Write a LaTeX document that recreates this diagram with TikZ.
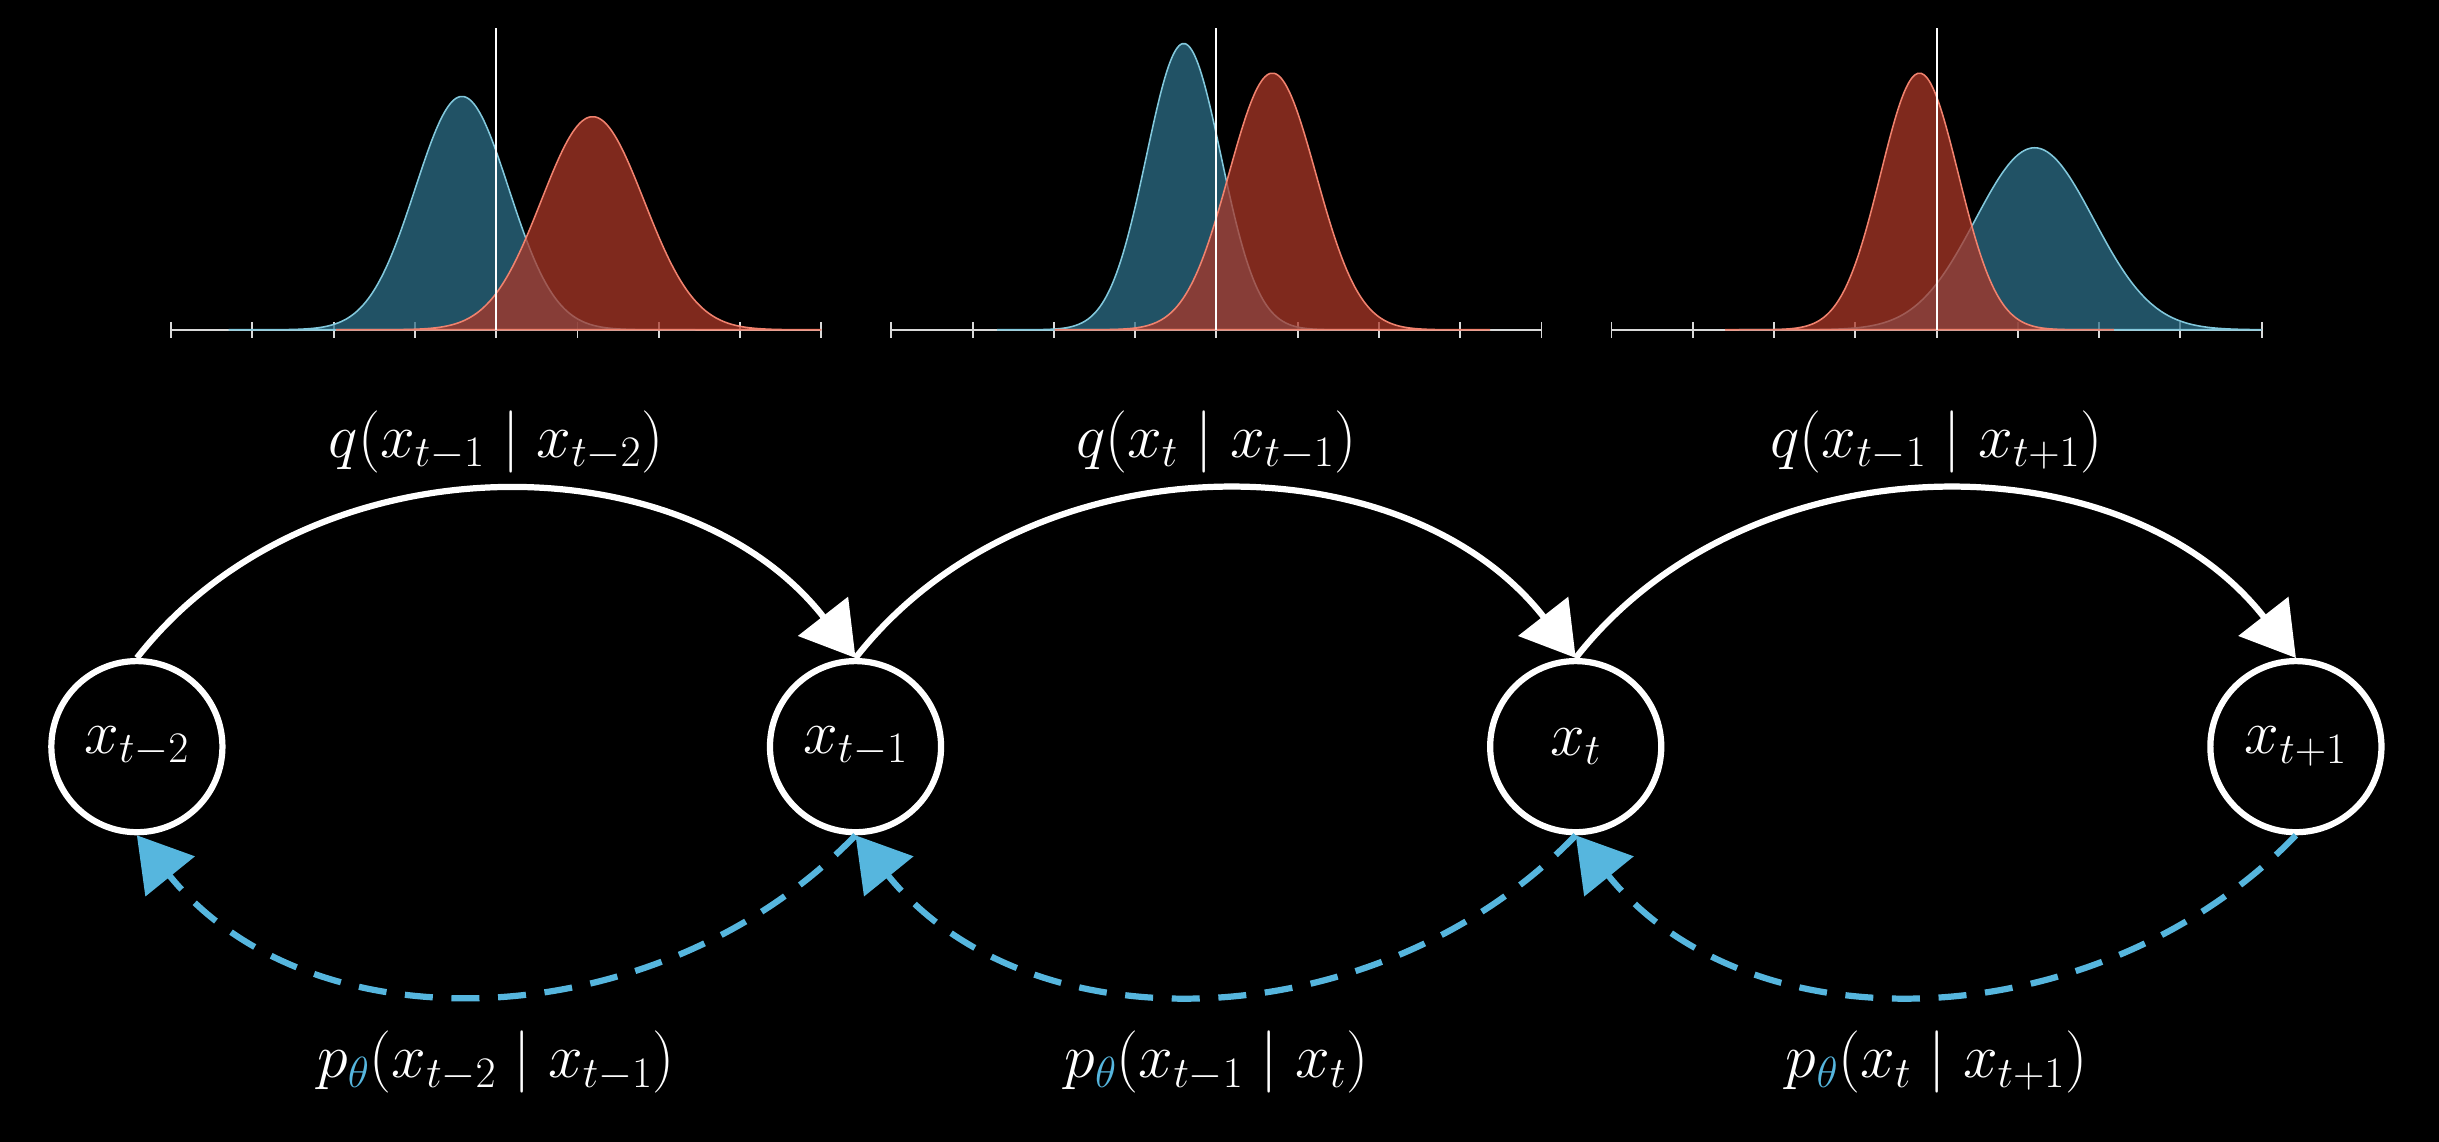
\documentclass[tikz,border=0pt]{standalone}
\usepackage{fix-cm}
\usetikzlibrary{arrows.meta}
\definecolor{pblue}{RGB}{86,182,222}
\definecolor{bfill}{RGB}{45,110,135}
\definecolor{bedge}{RGB}{130,200,220}
\definecolor{rfill}{RGB}{170,55,40}
\definecolor{redge}{RGB}{240,130,110}
\begin{document}
\begin{tikzpicture}[x=1pt,y=-1pt,
  state/.style={circle,draw=white,line width=4pt,minimum size=110pt,inner sep=0pt,text=white,font=\fontsize{40}{48}\selectfont},
  fwd/.style={draw=white,line width=4pt,-{Triangle[length=34pt,width=40pt]}},
  bwd/.style={draw=pblue,line width=4pt,dash pattern=on 18pt off 12pt,-{Triangle[length=34pt,width=40pt]}},
  lab/.style={text=white,font=\fontsize{40}{48}\selectfont},
  axis/.style={draw=white!85!black,line width=1.2pt}]
\fill[black] (0,0) rectangle (1568,734);
\useasboundingbox (0,0) rectangle (1568,734);
\newcommand{\gauss}[5]{%
  \begin{scope}\clip (#1,0) rectangle (#1+418,213);
  \filldraw[#5] plot[domain={#2-5*#3}:{#2+5*#3},samples=120,smooth] (\x,{212-#4*exp(-((\x-#2)/#3)^2/2)}) -- cycle;
  \end{scope}}
\foreach \xa/\name in {110/a,573/b,1036/c}{
  \draw[axis] (\xa,212) -- (\xa+418,212);
  \foreach \i in {0,...,8} \draw[axis] (\xa+\i*52.25,207) -- (\xa+\i*52.25,217);
}
\gauss{110}{297}{30}{150}{fill=bfill,fill opacity=0.75,draw=bedge,line width=1pt}
\gauss{110}{381}{33}{137}{fill=rfill,fill opacity=0.75,draw=redge,line width=1pt}
\gauss{573}{761}{24}{184}{fill=bfill,fill opacity=0.75,draw=bedge,line width=1pt}
\gauss{573}{818}{28}{165}{fill=rfill,fill opacity=0.75,draw=redge,line width=1pt}
\gauss{1036}{1308}{38}{117}{fill=bfill,fill opacity=0.75,draw=bedge,line width=1pt}
\gauss{1036}{1234}{25}{165}{fill=rfill,fill opacity=0.75,draw=redge,line width=1pt}
\foreach \xv in {319,782,1245} \draw[white,line width=1.2pt] (\xv,18) -- (\xv,212);
\node[state] (a) at (88,480) {$x_{t-2}$};
\node[state] (b) at (550,480) {$x_{t-1}$};
\node[state] (c) at (1013,480) {$x_{t}$};
\node[state] (d) at (1476,480) {$x_{t+1}$};
\draw[fwd] (a.north) to[out=52,in=128] (b.north);
\draw[fwd] (b.north) to[out=52,in=128] (c.north);
\draw[fwd] (c.north) to[out=52,in=128] (d.north);
\draw[bwd] (b.south) to[out=-134,in=-51] (a.south);
\draw[bwd] (c.south) to[out=-134,in=-51] (b.south);
\draw[bwd] (d.south) to[out=-134,in=-51] (c.south);
\node[lab] (q1) at (319,284) {$q(x_{t-1}\mid x_{t-2})$};
\node[lab] (q2) at (782,284) {$q(x_{t}\mid x_{t-1})$};
\node[lab] (q3) at (1245,284) {$q(x_{t-1}\mid x_{t+1})$};
\node[lab] (p1) at (319,683) {$p_{\textcolor{pblue}{\theta}}(x_{t-2}\mid x_{t-1})$};
\node[lab] (p2) at (782,683) {$p_{\textcolor{pblue}{\theta}}(x_{t-1}\mid x_{t})$};
\node[lab] (p3) at (1245,683) {$p_{\textcolor{pblue}{\theta}}(x_{t}\mid x_{t+1})$};
\end{tikzpicture}
\end{document}
